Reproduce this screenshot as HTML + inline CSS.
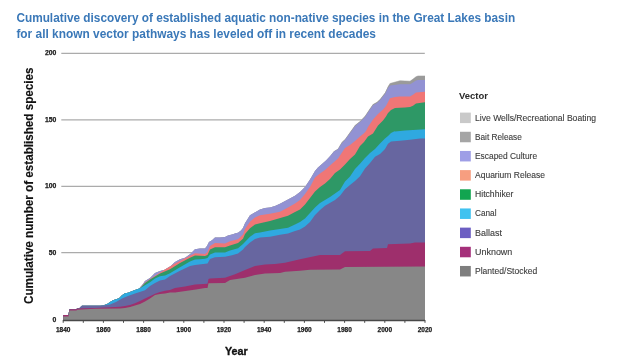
<!DOCTYPE html>
<html><head><meta charset="utf-8"><style>
html,body{margin:0;padding:0;background:#fff;width:624px;height:361px;overflow:hidden}
svg{display:block;will-change:transform;filter:blur(0.35px)}
text{font-family:"Liberation Sans",sans-serif}
.tk{font-size:6.8px;font-weight:bold;fill:#1a1a1a;stroke:#1a1a1a;stroke-width:0.25px}
.lg{font-size:9px;fill:#3c3c3c;stroke:#3c3c3c;stroke-width:0.12px}
.tt{font-size:12px;font-weight:bold;fill:#3a78b8}
</style></head><body>
<svg width="624" height="361" viewBox="0 0 624 361">
<rect width="624" height="361" fill="#fff"/>
<text x="16.4" y="21.5" class="tt" textLength="498.8" lengthAdjust="spacingAndGlyphs">Cumulative discovery of established aquatic non-native species in the Great Lakes basin</text>
<text x="16.4" y="37.5" class="tt" textLength="359.6" lengthAdjust="spacingAndGlyphs">for all known vector pathways has leveled off in recent decades</text>
<line x1="61.3" x2="424.8" y1="53.3" y2="53.3" stroke="#ababab" stroke-width="1.3"/>
<line x1="61.3" x2="424.8" y1="119.8" y2="119.8" stroke="#ababab" stroke-width="1.3"/>
<line x1="61.3" x2="424.8" y1="186.3" y2="186.3" stroke="#ababab" stroke-width="1.3"/>
<line x1="61.3" x2="424.8" y1="252.7" y2="252.7" stroke="#ababab" stroke-width="1.3"/>
<path d="M63.2,320.2L63.2,315.1L68.5,315.1L69.0,311.6L69.5,309.2L76.5,309.2L77.0,308.6L79.5,308.5L80.0,307.5L82.0,305.8L100.0,305.8L103.0,305.5L106.5,304.2L108.0,303.6L110.0,302.0L113.0,300.3L116.0,299.3L119.0,298.2L122.0,295.3L125.0,293.2L128.0,292.8L135.0,289.9L139.5,288.4L140.0,287.6L143.0,284.0L145.0,280.9L150.0,277.9L155.0,273.0L160.0,271.1L164.5,269.8L170.0,266.6L170.5,266.2L175.0,262.1L180.0,259.3L185.0,257.8L190.0,254.2L195.0,249.2L200.0,248.5L205.0,248.5L207.0,246.0L209.0,242.1L212.0,240.2L215.0,237.4L220.0,237.4L225.0,236.9L228.0,235.5L232.0,234.6L236.5,233.1L238.0,232.7L241.0,230.4L243.0,228.0L245.0,223.2L250.0,215.3L260.0,209.5L265.0,208.1L270.0,207.4L275.0,205.9L280.0,203.8L288.0,199.4L295.0,195.7L300.0,192.0L305.0,187.0L310.0,179.5L315.0,171.0L318.0,167.5L326.0,160.5L330.0,156.3L334.0,151.3L338.0,148.7L340.0,145.3L342.0,142.1L345.0,139.2L350.0,132.3L355.0,125.3L360.0,121.2L365.0,116.0L370.0,108.6L373.0,104.2L377.0,101.9L380.0,99.3L385.0,92.7L388.0,86.3L390.0,83.0L400.0,80.3L410.0,80.7L413.0,78.7L416.0,76.3L418.0,75.6L425.0,75.6L425.0,320.2Z" fill="#c8c8c8"/>
<path d="M63.2,320.2L63.2,315.1L68.5,315.1L69.0,311.6L69.5,309.2L76.5,309.2L77.0,308.6L79.5,308.5L80.0,307.5L82.0,305.8L100.0,305.8L103.0,305.5L106.5,304.2L108.0,303.6L110.0,302.0L113.0,300.3L116.0,299.3L119.0,298.2L122.0,295.3L125.0,293.2L128.0,292.8L135.0,289.9L139.5,288.4L140.0,287.6L143.0,284.0L145.0,280.9L150.0,277.9L155.0,273.0L160.0,271.1L164.5,269.8L170.0,266.6L170.5,266.2L175.0,262.1L180.0,259.3L185.0,257.8L190.0,254.2L195.0,249.2L200.0,248.5L205.0,248.5L207.0,246.0L209.0,242.1L212.0,240.2L215.0,237.4L220.0,237.4L225.0,236.9L228.0,235.5L232.0,234.6L236.5,233.1L238.0,232.7L241.0,230.4L243.0,228.0L245.0,223.2L250.0,215.3L260.0,209.5L265.0,208.1L270.0,207.4L275.0,205.9L280.0,203.8L288.0,199.4L295.0,195.7L300.0,192.0L305.0,187.0L310.0,179.5L315.0,171.0L318.0,167.5L326.0,160.5L330.0,156.3L334.0,151.3L338.0,148.7L340.0,145.3L342.0,142.1L345.0,139.2L350.0,132.3L355.0,125.3L360.0,121.2L365.0,116.0L370.0,108.6L373.0,104.2L377.0,101.9L380.0,99.3L385.0,92.7L388.0,86.5L390.0,83.4L400.0,80.7L410.0,81.2L413.0,79.1L416.0,76.8L418.0,76.1L425.0,76.1L425.0,320.2Z" fill="#9a9a9a"/>
<path d="M63.2,320.2L63.2,315.1L68.5,315.1L69.0,311.6L69.5,309.2L76.5,309.2L77.0,308.6L79.5,308.5L80.0,307.5L82.0,305.8L100.0,305.8L103.0,305.5L106.5,304.2L108.0,303.6L110.0,302.0L113.0,300.3L116.0,299.3L119.0,298.2L122.0,295.3L125.0,293.2L128.0,292.8L135.0,289.9L139.5,288.4L140.0,287.6L143.0,284.0L145.0,280.9L150.0,277.9L155.0,273.0L160.0,271.1L164.5,269.8L170.0,266.6L170.5,266.2L175.0,262.1L180.0,259.3L185.0,257.8L190.0,254.2L195.0,249.2L200.0,248.5L205.0,248.5L207.0,246.0L209.0,242.1L212.0,240.2L215.0,237.4L220.0,237.4L225.0,236.9L228.0,235.5L232.0,234.6L236.5,233.1L238.0,232.7L241.0,230.4L243.0,228.0L245.0,223.2L250.0,215.3L260.0,209.5L265.0,208.1L270.0,207.4L275.0,205.9L280.0,203.8L288.0,199.4L295.0,195.7L300.0,192.0L305.0,187.0L310.0,179.5L315.0,171.0L318.0,167.5L326.0,160.5L330.0,156.3L334.0,151.6L338.0,149.3L342.0,142.9L345.0,140.0L350.0,133.2L355.0,126.2L360.0,122.1L365.0,116.9L369.0,111.0L373.0,105.2L377.0,102.9L380.0,100.3L385.0,94.0L388.0,88.0L390.0,85.4L400.0,84.2L410.0,84.2L413.0,82.5L416.0,80.5L418.0,80.1L425.0,80.1L425.0,320.2Z" fill="#9292d3"/>
<path d="M63.2,320.2L63.2,315.1L68.5,315.1L69.0,311.6L69.5,309.2L76.5,309.2L77.0,308.6L79.5,308.5L80.0,307.5L82.0,305.8L100.0,305.8L103.0,305.5L106.5,304.2L108.0,303.6L110.0,302.0L113.0,300.3L116.0,299.3L119.0,298.2L122.0,295.3L125.0,293.2L128.0,292.8L135.0,289.9L140.0,288.2L145.0,282.5L150.0,279.0L160.0,272.5L175.0,263.6L190.0,255.7L195.0,253.3L205.0,253.9L207.5,252.0L210.0,245.9L215.0,243.1L225.0,243.5L230.0,241.2L238.0,239.3L243.0,234.6L245.0,228.9L250.0,221.7L255.0,217.4L260.0,215.3L270.0,213.8L280.0,211.7L288.0,207.6L295.0,203.5L300.0,200.0L305.0,194.0L310.0,187.0L315.0,177.5L320.0,173.5L325.0,170.0L330.0,165.5L338.0,158.5L345.0,148.0L350.0,145.0L355.0,141.0L360.0,136.5L364.0,133.3L366.0,131.0L368.0,127.0L373.0,119.5L378.0,114.0L383.0,109.5L386.0,106.0L390.0,98.2L395.0,97.0L400.0,96.4L410.0,96.4L413.0,94.7L416.0,92.4L425.0,91.8L425.0,320.2Z" fill="#f07676"/>
<path d="M63.2,320.2L63.2,315.1L68.5,315.1L69.0,311.6L69.5,309.2L76.5,309.2L77.0,308.6L79.5,308.5L80.0,307.5L82.0,305.8L100.0,305.8L103.0,305.5L106.5,304.2L108.0,303.6L110.0,302.0L113.0,300.3L116.0,299.3L119.0,298.2L122.0,295.3L125.0,293.2L128.0,292.8L135.0,289.9L140.0,288.2L145.0,283.0L150.0,279.5L160.0,273.5L170.0,269.3L180.0,262.9L190.0,257.8L195.0,255.5L205.0,256.1L207.5,255.0L210.0,249.6L215.0,247.3L225.0,247.3L230.0,245.4L238.0,243.1L243.0,238.8L245.0,234.0L250.0,228.2L255.0,224.6L260.0,223.2L270.0,221.0L288.0,215.8L295.0,212.0L300.0,209.5L305.0,204.5L315.0,191.5L320.0,187.0L325.0,183.5L330.0,179.0L335.0,173.0L340.0,169.5L345.0,164.5L350.0,159.0L355.0,154.5L360.0,146.0L364.0,142.0L368.0,136.6L373.0,133.5L378.0,125.4L383.0,120.5L386.0,116.5L388.0,113.0L391.0,110.0L395.0,108.1L405.0,107.5L410.0,106.9L413.0,105.7L416.0,103.4L425.0,102.2L425.0,320.2Z" fill="#2e9866"/>
<path d="M63.2,320.2L63.2,315.1L68.5,315.1L69.0,311.6L69.5,309.2L76.5,309.2L77.0,308.6L79.5,308.5L80.0,307.5L82.0,305.8L100.0,305.8L103.0,305.5L106.5,304.2L108.0,303.6L110.0,302.0L113.0,300.3L116.0,299.3L119.0,298.2L122.0,295.3L125.0,293.2L128.0,292.8L135.0,289.9L140.0,288.2L145.0,285.3L150.0,282.3L155.0,278.6L160.0,276.2L165.0,275.5L170.0,273.3L180.0,267.2L190.0,261.6L195.0,259.5L200.0,259.2L205.0,258.8L207.5,258.0L210.0,254.4L215.0,252.5L225.0,252.5L230.0,250.6L238.0,248.2L243.0,244.0L250.0,236.8L255.0,233.3L260.0,232.5L270.0,230.4L288.0,227.7L295.0,224.5L300.0,222.0L305.0,218.5L315.0,207.5L320.0,203.0L325.0,199.9L330.0,197.0L340.0,190.0L345.0,181.5L350.0,176.5L355.0,169.0L360.0,163.7L365.0,158.0L370.0,153.0L375.0,148.9L380.0,143.6L385.0,138.5L388.0,136.0L391.0,133.0L394.5,131.2L395.0,131.5L405.0,130.4L425.0,129.2L425.0,320.2Z" fill="#2fa9e0"/>
<path d="M63.2,320.2L63.2,315.1L68.5,315.1L69.0,311.6L69.5,309.2L76.5,309.2L77.0,308.6L79.5,308.5L80.0,307.5L82.0,305.8L100.0,305.8L103.0,305.5L110.0,304.5L116.0,302.0L122.0,298.6L128.0,296.1L135.0,293.4L140.5,291.7L145.0,290.3L150.0,286.1L155.0,283.0L160.0,280.6L165.0,279.5L170.0,275.9L180.0,270.8L190.0,266.0L195.0,264.9L201.0,264.2L207.5,263.5L210.0,259.1L215.0,257.2L225.0,256.7L232.0,255.3L238.0,253.4L243.0,249.6L245.0,246.9L250.0,242.6L255.0,239.0L260.0,237.6L270.0,236.8L280.0,234.7L288.0,233.5L295.0,231.0L300.0,229.5L305.0,226.5L310.0,222.0L315.0,215.0L320.0,210.0L325.0,205.7L335.0,199.9L340.0,195.8L345.0,189.3L350.0,184.9L355.0,181.0L360.0,176.2L365.0,168.4L370.0,163.1L375.0,156.7L380.0,154.0L385.0,149.0L388.0,143.7L391.0,141.4L400.0,140.8L410.0,139.7L420.0,138.5L425.0,138.5L425.0,320.2Z" fill="#6766a0"/>
<path d="M63.2,320.2L63.2,315.1L68.5,315.1L69.0,311.6L69.5,309.2L76.5,309.2L77.0,308.6L95.0,308.0L120.0,306.8L125.0,306.1L130.0,305.0L135.0,303.2L140.0,301.0L145.0,298.6L152.5,294.9L155.0,293.7L160.0,291.9L165.0,290.7L170.0,290.0L175.0,288.0L185.0,286.6L195.0,284.4L207.5,283.8L208.5,279.0L210.0,278.4L225.0,277.7L235.0,274.3L245.0,270.1L255.0,266.0L265.0,264.6L275.0,264.1L285.0,262.7L300.0,259.3L320.0,255.1L340.0,254.9L345.0,251.3L370.0,251.0L373.0,248.5L387.0,248.0L388.0,244.3L410.0,243.4L415.0,242.6L425.0,242.6L425.0,320.2Z" fill="#9e2f6c"/>
<path d="M63.2,320.2L63.2,316.5L68.5,316.5L69.0,312.9L69.5,310.5L76.5,310.5L77.0,309.8L95.0,308.8L120.0,308.4L125.0,308.0L130.0,307.0L140.0,304.0L145.0,301.6L150.0,298.6L155.0,294.9L160.0,294.0L165.0,293.5L170.0,292.5L175.0,292.4L196.0,289.4L205.0,288.0L207.5,288.0L208.5,283.3L225.0,283.0L230.0,280.0L245.0,277.7L255.0,275.0L265.0,273.6L280.0,273.1L285.0,271.8L300.0,270.8L310.0,269.7L340.0,269.5L345.0,267.0L425.0,266.6L425.0,320.2Z" fill="#878787"/>
<line x1="63" x2="425" y1="320.5" y2="320.5" stroke="#484848" stroke-width="1.3"/>
<line x1="63.2" x2="63.2" y1="320" y2="322.8" stroke="#4a4a4a" stroke-width="1"/>
<line x1="83.3" x2="83.3" y1="320" y2="322.8" stroke="#4a4a4a" stroke-width="1"/>
<line x1="103.4" x2="103.4" y1="320" y2="322.8" stroke="#4a4a4a" stroke-width="1"/>
<line x1="123.5" x2="123.5" y1="320" y2="322.8" stroke="#4a4a4a" stroke-width="1"/>
<line x1="143.6" x2="143.6" y1="320" y2="322.8" stroke="#4a4a4a" stroke-width="1"/>
<line x1="163.7" x2="163.7" y1="320" y2="322.8" stroke="#4a4a4a" stroke-width="1"/>
<line x1="183.8" x2="183.8" y1="320" y2="322.8" stroke="#4a4a4a" stroke-width="1"/>
<line x1="203.9" x2="203.9" y1="320" y2="322.8" stroke="#4a4a4a" stroke-width="1"/>
<line x1="224.0" x2="224.0" y1="320" y2="322.8" stroke="#4a4a4a" stroke-width="1"/>
<line x1="244.1" x2="244.1" y1="320" y2="322.8" stroke="#4a4a4a" stroke-width="1"/>
<line x1="264.2" x2="264.2" y1="320" y2="322.8" stroke="#4a4a4a" stroke-width="1"/>
<line x1="284.3" x2="284.3" y1="320" y2="322.8" stroke="#4a4a4a" stroke-width="1"/>
<line x1="304.4" x2="304.4" y1="320" y2="322.8" stroke="#4a4a4a" stroke-width="1"/>
<line x1="324.5" x2="324.5" y1="320" y2="322.8" stroke="#4a4a4a" stroke-width="1"/>
<line x1="344.6" x2="344.6" y1="320" y2="322.8" stroke="#4a4a4a" stroke-width="1"/>
<line x1="364.7" x2="364.7" y1="320" y2="322.8" stroke="#4a4a4a" stroke-width="1"/>
<line x1="384.8" x2="384.8" y1="320" y2="322.8" stroke="#4a4a4a" stroke-width="1"/>
<line x1="404.9" x2="404.9" y1="320" y2="322.8" stroke="#4a4a4a" stroke-width="1"/>
<line x1="425.0" x2="425.0" y1="320" y2="322.8" stroke="#4a4a4a" stroke-width="1"/>
<text x="56.3" y="55.3" text-anchor="end" class="tk">200</text>
<text x="56.3" y="121.8" text-anchor="end" class="tk">150</text>
<text x="56.3" y="188.3" text-anchor="end" class="tk">100</text>
<text x="56.3" y="254.7" text-anchor="end" class="tk">50</text>
<text x="56.3" y="322.4" text-anchor="end" class="tk">0</text>
<text x="63.2" y="332.1" text-anchor="middle" class="tk" textLength="14.5" lengthAdjust="spacingAndGlyphs">1840</text>
<text x="103.4" y="332.1" text-anchor="middle" class="tk" textLength="14.5" lengthAdjust="spacingAndGlyphs">1860</text>
<text x="143.6" y="332.1" text-anchor="middle" class="tk" textLength="14.5" lengthAdjust="spacingAndGlyphs">1880</text>
<text x="183.8" y="332.1" text-anchor="middle" class="tk" textLength="14.5" lengthAdjust="spacingAndGlyphs">1900</text>
<text x="224.0" y="332.1" text-anchor="middle" class="tk" textLength="14.5" lengthAdjust="spacingAndGlyphs">1920</text>
<text x="264.2" y="332.1" text-anchor="middle" class="tk" textLength="14.5" lengthAdjust="spacingAndGlyphs">1940</text>
<text x="304.4" y="332.1" text-anchor="middle" class="tk" textLength="14.5" lengthAdjust="spacingAndGlyphs">1960</text>
<text x="344.6" y="332.1" text-anchor="middle" class="tk" textLength="14.5" lengthAdjust="spacingAndGlyphs">1980</text>
<text x="384.8" y="332.1" text-anchor="middle" class="tk" textLength="14.5" lengthAdjust="spacingAndGlyphs">2000</text>
<text x="425.0" y="332.1" text-anchor="middle" class="tk" textLength="14.5" lengthAdjust="spacingAndGlyphs">2020</text>

<text transform="translate(33.3,304) rotate(-90)" style="font-size:12.6px;font-weight:bold;fill:#111;stroke:#111;stroke-width:0.15px" textLength="236.5" lengthAdjust="spacingAndGlyphs">Cumulative number of established species</text>
<text x="225" y="354.5" style="font-size:11.3px;font-weight:bold;fill:#111;stroke:#111;stroke-width:0.35px" textLength="22.8" lengthAdjust="spacingAndGlyphs">Year</text>
<text x="459" y="98.6" style="font-size:9.6px;font-weight:bold;fill:#2a2a2a" textLength="28.9" lengthAdjust="spacingAndGlyphs">Vector</text>
<rect x="460" y="112.60" width="10.8" height="10.5" fill="#c9c9c9"/>
<text x="475" y="120.50" class="lg" textLength="121.0" lengthAdjust="spacingAndGlyphs">Live Wells/Recreational Boating</text>
<rect x="460" y="131.77" width="10.8" height="10.5" fill="#a5a5a5"/>
<text x="475" y="139.67" class="lg" textLength="46.8" lengthAdjust="spacingAndGlyphs">Bait Release</text>
<rect x="460" y="150.94" width="10.8" height="10.5" fill="#9e9ee6"/>
<text x="475" y="158.84" class="lg" textLength="62.1" lengthAdjust="spacingAndGlyphs">Escaped Culture</text>
<rect x="460" y="170.11" width="10.8" height="10.5" fill="#f79e80"/>
<text x="475" y="178.01" class="lg" textLength="70.0" lengthAdjust="spacingAndGlyphs">Aquarium Release</text>
<rect x="460" y="189.28" width="10.8" height="10.5" fill="#12a550"/>
<text x="475" y="197.18" class="lg" textLength="38.4" lengthAdjust="spacingAndGlyphs">Hitchhiker</text>
<rect x="460" y="208.45" width="10.8" height="10.5" fill="#40c2f0"/>
<text x="475" y="216.35" class="lg" textLength="21.5" lengthAdjust="spacingAndGlyphs">Canal</text>
<rect x="460" y="227.62" width="10.8" height="10.5" fill="#6c5ec2"/>
<text x="475" y="235.52" class="lg" textLength="26.9" lengthAdjust="spacingAndGlyphs">Ballast</text>
<rect x="460" y="246.79" width="10.8" height="10.5" fill="#a5307a"/>
<text x="475" y="254.69" class="lg" textLength="37.3" lengthAdjust="spacingAndGlyphs">Unknown</text>
<rect x="460" y="265.96" width="10.8" height="10.5" fill="#7e7e7e"/>
<text x="475" y="273.86" class="lg" textLength="62.3" lengthAdjust="spacingAndGlyphs">Planted/Stocked</text>
</svg>
</body></html>
